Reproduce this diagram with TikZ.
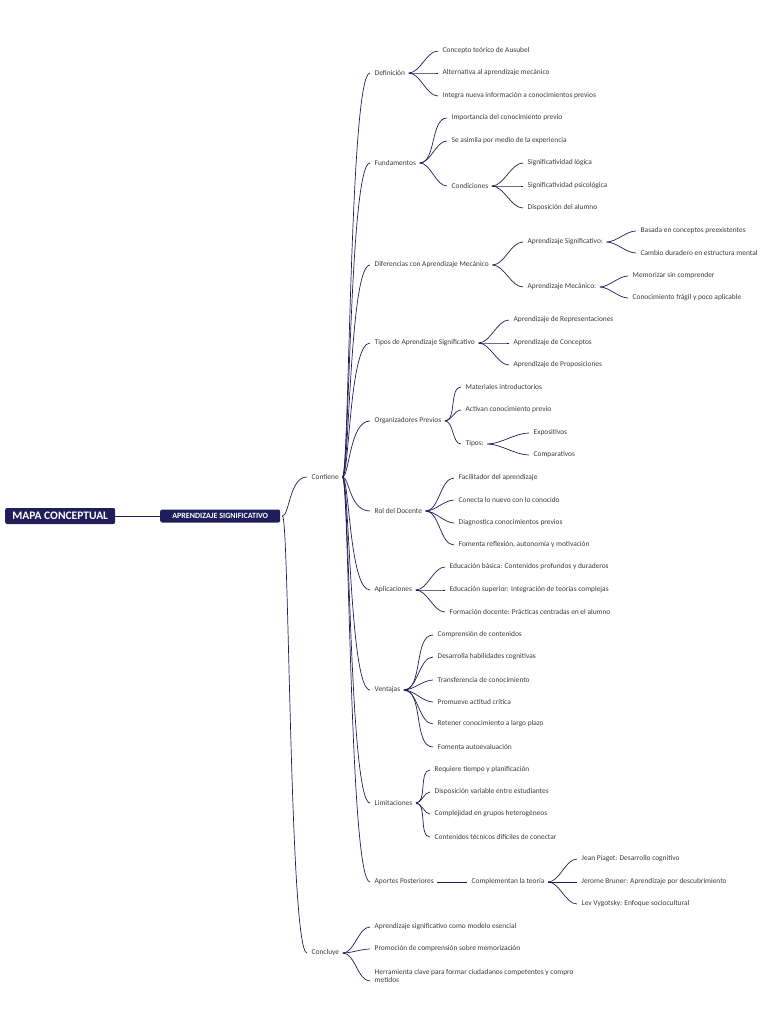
\documentclass[tikz,border=0pt]{standalone}
\usepackage{fontspec}
\setmainfont{Carlito}
\usetikzlibrary{calc}
\definecolor{navy}{HTML}{1F1D5A}
\definecolor{txt}{HTML}{3A3A3A}
\begin{document}
\begin{tikzpicture}[x=1pt,y=-1pt,
  lbl/.style={anchor=west,inner sep=1.5pt,font=\fontsize{7.4}{8.6}\selectfont,text=txt},
  boxed/.style={anchor=west,fill=navy,text=white,rounded corners=2pt,font=\bfseries,inner sep=2.5pt},
  edge/.style={draw=navy,line width=0.7pt}]
\useasboundingbox (0,0) rectangle (768,1024);
\node[boxed,font=\bfseries\fontsize{11.5}{13}\selectfont,minimum width=110pt,minimum height=16pt,inner sep=3pt] (root) at (5,516) {MAPA CONCEPTUAL};
\node[boxed,font=\bfseries\fontsize{8}{9}\selectfont,minimum width=120pt,minimum height=13pt,inner sep=1pt] (as) at (160,516) {APRENDIZAJE SIGNIFICATIVO};
\draw[edge] (root.east) -- (as.west);
\newcommand\ed[2]{\draw[edge] ([xshift=2pt]#1.east) to[out=0,in=180,looseness=0.8] ([xshift=-3pt]#2.west);}
\newcommand\edl[2]{\draw[edge] let \p1=([xshift=2pt]#1.east), \p2=([xshift=-3pt]#2.west) in
  (\p1) .. controls (\x1+7pt,\y1) and (\x1+7pt,\y2) .. (\p2);}
\node[lbl] (cont) at (310,477) {Contiene};
\node[lbl] (conc) at (310,953) {Concluye};
\edl{as}{cont}\edl{as}{conc}
% level 2
\node[lbl] (def) at (373,73) {Definición};
\node[lbl] (fun) at (373,163) {Fundamentos};
\node[lbl] (dif) at (373,265) {Diferencias con Aprendizaje Mecánico};
\node[lbl] (tip) at (373,343) {Tipos de Aprendizaje Significativo};
\node[lbl] (org) at (373,421) {Organizadores Previos};
\node[lbl] (rol) at (373,511) {Rol del Docente};
\node[lbl] (apl) at (373,590) {Aplicaciones};
\node[lbl] (ven) at (373,690) {Ventajas};
\node[lbl] (lim) at (373,803) {Limitaciones};
\node[lbl] (apo) at (373,882) {Aportes Posteriores};
\foreach \q in {def,fun,dif,tip,org,rol,apl,ven,lim,apo} {\edl{cont}{\q}}
% Definicion
\node[lbl] (d1) at (441,51) {Concepto teórico de Ausubel};
\node[lbl] (d2) at (441,73) {Alternativa al aprendizaje mecánico};
\node[lbl] (d3) at (441,96) {Integra nueva información a conocimientos previos};
\foreach \q in {d1,d2,d3} {\ed{def}{\q}}
% Fundamentos
\node[lbl] (f1) at (450,118) {Importancia del conocimiento previo};
\node[lbl] (f2) at (450,141) {Se asimila por medio de la experiencia};
\node[lbl] (f3) at (450,186) {Condiciones};
\foreach \q in {f1,f2,f3} {\ed{fun}{\q}}
\node[lbl] (c1) at (526,163) {Significatividad lógica};
\node[lbl] (c2) at (526,186) {Significatividad psicológica};
\node[lbl] (c3) at (526,208) {Disposición del alumno};
\foreach \q in {c1,c2,c3} {\ed{f3}{\q}}
% Diferencias
\node[lbl] (ds) at (526,242) {Aprendizaje Significativo:};
\node[lbl] (dm) at (526,287) {Aprendizaje Mecánico:};
\ed{dif}{ds}\ed{dif}{dm}
\node[lbl] (ds1) at (639,231) {Basada en conceptos preexistentes};
\node[lbl] (ds2) at (639,253) {Cambio duradero en estructura mental};
\ed{ds}{ds1}\ed{ds}{ds2}
\node[lbl] (dm1) at (631,276) {Memorizar sin comprender};
\node[lbl] (dm2) at (631,298) {Conocimiento frágil y poco aplicable};
\ed{dm}{dm1}\ed{dm}{dm2}
% Tipos
\node[lbl] (t1) at (512,320) {Aprendizaje de Representaciones};
\node[lbl] (t2) at (512,343) {Aprendizaje de Conceptos};
\node[lbl] (t3) at (512,365) {Aprendizaje de Proposiciones};
\foreach \q in {t1,t2,t3} {\ed{tip}{\q}}
% Organizadores
\node[lbl] (o1) at (464,387) {Materiales introductorios};
\node[lbl] (o2) at (464,410) {Activan conocimiento previo};
\node[lbl] (o3) at (464,444) {Tipos:};
\foreach \q in {o1,o2,o3} {\ed{org}{\q}}
\node[lbl] (ot1) at (532,433) {Expositivos};
\node[lbl] (ot2) at (532,455) {Comparativos};
\ed{o3}{ot1}\ed{o3}{ot2}
% Rol
\node[lbl] (r1) at (457,478) {Facilitador del aprendizaje};
\node[lbl] (r2) at (457,500) {Conecta lo nuevo con lo conocido};
\node[lbl] (r3) at (457,523) {Diagnostica conocimientos previos};
\node[lbl] (r4) at (457,545) {Fomenta reflexión, autonomía y motivación};
\foreach \q in {r1,r2,r3,r4} {\ed{rol}{\q}}
% Aplicaciones
\node[lbl] (a1) at (448,567) {Educación básica: Contenidos profundos y duraderos};
\node[lbl] (a2) at (448,590) {Educación superior: Integración de teorías complejas};
\node[lbl] (a3) at (448,612) {Formación docente: Prácticas centradas en el alumno};
\foreach \q in {a1,a2,a3} {\ed{apl}{\q}}
% Ventajas
\node[lbl] (v1) at (436,635) {Comprensión de contenidos};
\node[lbl] (v2) at (436,657) {Desarrolla habilidades cognitivas};
\node[lbl] (v3) at (436,680) {Transferencia de conocimiento};
\node[lbl] (v4) at (436,702) {Promueve actitud crítica};
\node[lbl] (v5) at (436,724) {Retener conocimiento a largo plazo};
\node[lbl] (v6) at (436,747) {Fomenta autoevaluación};
\foreach \q in {v1,v2,v3,v4,v5,v6} {\ed{ven}{\q}}
% Limitaciones
\node[lbl] (l1) at (433,770) {Requiere tiempo y planificación};
\node[lbl] (l2) at (433,792) {Disposición variable entre estudiantes};
\node[lbl] (l3) at (433,814) {Complejidad en grupos heterogéneos};
\node[lbl] (l4) at (433,837) {Contenidos técnicos difíciles de conectar};
\foreach \q in {l1,l2,l3,l4} {\ed{lim}{\q}}
% Aportes
\node[lbl] (ct) at (470,882) {Complementan la teoría};
\draw[edge] ([xshift=2pt]apo.east) -- ([xshift=-3pt]ct.west);
\node[lbl] (p1) at (580,859) {Jean Piaget: Desarrollo cognitivo};
\node[lbl] (p2) at (580,882) {Jerome Bruner: Aprendizaje por descubrimiento};
\node[lbl] (p3) at (580,904) {Lev Vygotsky: Enfoque sociocultural};
\foreach \q in {p1,p2,p3} {\ed{ct}{\q}}
% Concluye
\node[lbl] (k1) at (373,927) {Aprendizaje significativo como modelo esencial};
\node[lbl] (k2) at (373,949) {Promoción de comprensión sobre memorización};
\node[lbl,align=left] (k3) at (373,976) {Herramienta clave para formar ciudadanos competentes y compro\\metidos};
\ed{conc}{k1}\ed{conc}{k2}
\draw[edge] ([xshift=2pt]conc.east) to[out=0,in=180,looseness=0.8] ([xshift=-3pt,yshift=-5pt]k3.west);
\end{tikzpicture}
\end{document}
